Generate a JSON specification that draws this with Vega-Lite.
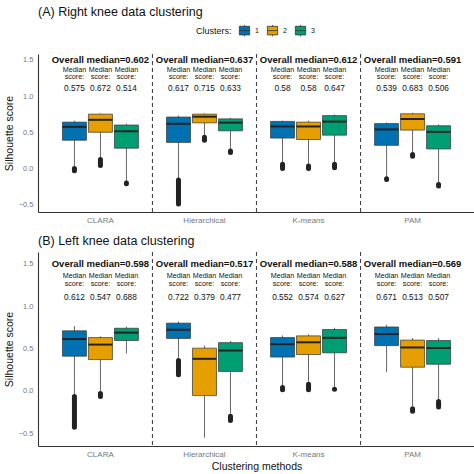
{
  "$schema": "https://vega.github.io/schema/vega-lite/v6.json",
  "padding": {"left": 4, "top": 5, "right": 0, "bottom": 0},
  "config": {
    "font": "Liberation Sans",
    "view": {"stroke": null},
    "axis": {"domainColor": "#333", "domainWidth": 1.1, "ticks": false, "grid": false, "labelColor": "#777", "labelFontSize": 7.5, "titleFontWeight": "normal", "titleColor": "#111", "titleFontSize": 10.5, "labelPadding": 5, "labelOverlap": false},
    "title": {"fontWeight": "normal", "fontSize": 12.5, "color": "#111", "anchor": "start", "frame": "group"}
  },
  "datasets": {
    "div": [{"method": "Hierarchical"}, {"method": "K-means"}, {"method": "PAM"}],
    "boxA": [
      {"method": "CLARA", "cluster": "1", "lower": 0.03, "q1": 0.39, "median": 0.575, "q3": 0.64, "upper": 0.66},
      {"method": "CLARA", "cluster": "2", "lower": 0.15, "q1": 0.50, "median": 0.672, "q3": 0.75, "upper": 0.76},
      {"method": "CLARA", "cluster": "3", "lower": -0.18, "q1": 0.28, "median": 0.514, "q3": 0.60, "upper": 0.62},
      {"method": "Hierarchical", "cluster": "1", "lower": -0.13, "q1": 0.36, "median": 0.617, "q3": 0.71, "upper": 0.73},
      {"method": "Hierarchical", "cluster": "2", "lower": 0.46, "q1": 0.63, "median": 0.715, "q3": 0.75, "upper": 0.76},
      {"method": "Hierarchical", "cluster": "3", "lower": 0.27, "q1": 0.52, "median": 0.633, "q3": 0.685, "upper": 0.70},
      {"method": "K-means", "cluster": "1", "lower": 0.087, "q1": 0.42, "median": 0.58, "q3": 0.65, "upper": 0.66},
      {"method": "K-means", "cluster": "2", "lower": 0.065, "q1": 0.40, "median": 0.58, "q3": 0.64, "upper": 0.66},
      {"method": "K-means", "cluster": "3", "lower": 0.087, "q1": 0.46, "median": 0.647, "q3": 0.73, "upper": 0.745},
      {"method": "PAM", "cluster": "1", "lower": -0.12, "q1": 0.32, "median": 0.539, "q3": 0.62, "upper": 0.635},
      {"method": "PAM", "cluster": "2", "lower": 0.225, "q1": 0.53, "median": 0.683, "q3": 0.755, "upper": 0.77},
      {"method": "PAM", "cluster": "3", "lower": -0.19, "q1": 0.27, "median": 0.506, "q3": 0.59, "upper": 0.61}
    ],
    "outA": [
      {"method": "CLARA", "cluster": "1", "hi": 0.0, "lo": -0.03},
      {"method": "CLARA", "cluster": "2", "hi": 0.125, "lo": 0.04},
      {"method": "CLARA", "cluster": "3", "hi": -0.2, "lo": -0.21},
      {"method": "Hierarchical", "cluster": "1", "hi": -0.16, "lo": -0.49},
      {"method": "Hierarchical", "cluster": "2", "hi": 0.43, "lo": 0.39},
      {"method": "Hierarchical", "cluster": "3", "hi": 0.24, "lo": 0.22},
      {"method": "K-means", "cluster": "1", "hi": 0.06, "lo": 0.0},
      {"method": "K-means", "cluster": "2", "hi": 0.035, "lo": 0.0},
      {"method": "K-means", "cluster": "3", "hi": 0.06, "lo": 0.01},
      {"method": "PAM", "cluster": "1", "hi": -0.14, "lo": -0.15},
      {"method": "PAM", "cluster": "2", "hi": 0.195, "lo": 0.17},
      {"method": "PAM", "cluster": "3", "hi": -0.22, "lo": -0.24}
    ],
    "ovA": [
      {"method": "CLARA", "label": "Overall median=0.602"},
      {"method": "Hierarchical", "label": "Overall median=0.637"},
      {"method": "K-means", "label": "Overall median=0.612"},
      {"method": "PAM", "label": "Overall median=0.591"}
    ],
    "boxB": [
      {"method": "CLARA", "cluster": "1", "lower": -0.035, "q1": 0.41, "median": 0.612, "q3": 0.71, "upper": 0.765},
      {"method": "CLARA", "cluster": "2", "lower": 0.0, "q1": 0.37, "median": 0.547, "q3": 0.63, "upper": 0.645},
      {"method": "CLARA", "cluster": "3", "lower": 0.44, "q1": 0.595, "median": 0.688, "q3": 0.74, "upper": 0.76},
      {"method": "Hierarchical", "cluster": "1", "lower": 0.39, "q1": 0.62, "median": 0.722, "q3": 0.80, "upper": 0.82},
      {"method": "Hierarchical", "cluster": "2", "lower": -0.55, "q1": -0.055, "median": 0.379, "q3": 0.505, "upper": 0.535},
      {"method": "Hierarchical", "cluster": "3", "lower": -0.27, "q1": 0.23, "median": 0.477, "q3": 0.57, "upper": 0.59},
      {"method": "K-means", "cluster": "1", "lower": 0.07, "q1": 0.40, "median": 0.552, "q3": 0.63, "upper": 0.655},
      {"method": "K-means", "cluster": "2", "lower": 0.11, "q1": 0.43, "median": 0.574, "q3": 0.65, "upper": 0.67},
      {"method": "K-means", "cluster": "3", "lower": 0.05, "q1": 0.45, "median": 0.627, "q3": 0.725, "upper": 0.745},
      {"method": "PAM", "cluster": "1", "lower": 0.22, "q1": 0.535, "median": 0.671, "q3": 0.755, "upper": 0.78},
      {"method": "PAM", "cluster": "2", "lower": -0.18, "q1": 0.28, "median": 0.513, "q3": 0.60, "upper": 0.625},
      {"method": "PAM", "cluster": "3", "lower": -0.095, "q1": 0.315, "median": 0.507, "q3": 0.595, "upper": 0.625}
    ],
    "outB": [
      {"method": "CLARA", "cluster": "1", "hi": -0.065, "lo": -0.43},
      {"method": "CLARA", "cluster": "2", "hi": -0.03, "lo": -0.065},
      {"method": "Hierarchical", "cluster": "1", "hi": 0.36, "lo": 0.19},
      {"method": "Hierarchical", "cluster": "3", "hi": -0.30, "lo": -0.35},
      {"method": "K-means", "cluster": "1", "hi": 0.04, "lo": 0.015},
      {"method": "K-means", "cluster": "2", "hi": 0.08, "lo": 0.015},
      {"method": "K-means", "cluster": "3", "hi": 0.02, "lo": 0.02},
      {"method": "PAM", "cluster": "2", "hi": -0.21, "lo": -0.24},
      {"method": "PAM", "cluster": "3", "hi": -0.125, "lo": -0.19}
    ],
    "ovB": [
      {"method": "CLARA", "label": "Overall median=0.598"},
      {"method": "Hierarchical", "label": "Overall median=0.517"},
      {"method": "K-means", "label": "Overall median=0.588"},
      {"method": "PAM", "label": "Overall median=0.569"}
    ]
  },
  "resolve": {"legend": {"color": "independent"}, "scale": {"y": "independent"}},
  "spacing": 10,
  "vconcat": [
    {
      "title": {"text": "(A) Right knee data clustering", "offset": 6},
      "width": 437,
      "height": 158,
      "layer": [
        {
          "data": {"name": "div"},
          "mark": {"type": "rule", "strokeDash": [4, 3], "color": "#444", "strokeWidth": 1.1},
          "encoding": {
            "x": {"field": "method", "type": "nominal", "bandPosition": 0, "scale": {"domain": ["CLARA", "Hierarchical", "K-means", "PAM"], "paddingInner": 0, "paddingOuter": 0.1}, "title": null, "axis": {"labelFontSize": 8, "labelPadding": 4, "labelAngle": 0}}
          }
        },
        {
          "data": {"name": "boxA"},
          "mark": {"type": "rule", "color": "#555", "strokeWidth": 0.9},
          "encoding": {
            "x": {"field": "method", "type": "nominal", "title": null},
            "xOffset": {"field": "cluster", "type": "nominal", "scale": {"domain": ["1", "2", "3"], "paddingInner": 0.077, "paddingOuter": 0.54}},
            "y": {"field": "lower", "type": "quantitative", "scale": {"domain": [-0.6, 1.58], "nice": false, "zero": false}, "title": "Silhouette score", "axis": {"values": [-0.5, 0, 0.5, 1, 1.5], "tickCount": 10, "format": ".1f", "titlePadding": 4, "labelOverlap": false}},
            "y2": {"field": "upper"}
          }
        },
        {
          "data": {"name": "outA"},
          "mark": {"type": "rule", "color": "#222", "strokeWidth": 5, "strokeCap": "round"},
          "encoding": {
            "x": {"field": "method", "type": "nominal", "title": null},
            "xOffset": {"field": "cluster", "type": "nominal"},
            "y": {"field": "hi", "type": "quantitative", "title": "Silhouette score"},
            "y2": {"field": "lo"}
          }
        },
        {
          "data": {"name": "boxA"},
          "mark": {"type": "bar", "stroke": "#333", "strokeWidth": 0.7},
          "encoding": {
            "x": {"field": "method", "type": "nominal", "title": null},
            "xOffset": {"field": "cluster", "type": "nominal"},
            "y": {"field": "q1", "type": "quantitative", "title": "Silhouette score"},
            "y2": {"field": "q3"},
            "color": {"field": "cluster", "type": "nominal", "scale": {"domain": ["1", "2", "3"], "range": ["#0072B2", "#E69F00", "#009E73"]},
              "legend": {"title": "Clusters:", "orient": "none", "legendX": 158, "legendY": -30, "direction": "horizontal", "titleOrient": "left", "titleFontSize": 9, "titleFontWeight": "normal", "titleColor": "#111", "titlePadding": 6, "labelFontSize": 7, "labelColor": "#111", "symbolType": "M-0.9,-0.75H0.9V0.75H-0.9Z M-0.9,0H0.9 M0,-0.75V-1 M0,0.75V1", "symbolSize": 130, "symbolStrokeColor": "#333", "symbolStrokeWidth": 0.8, "columnPadding": 6, "labelOffset": 4}}
          }
        },
        {
          "data": {"name": "boxA"},
          "mark": {"type": "tick", "orient": "horizontal", "size": 24, "thickness": 2, "color": "#222", "opacity": 1},
          "encoding": {
            "x": {"field": "method", "type": "nominal", "title": null},
            "xOffset": {"field": "cluster", "type": "nominal"},
            "y": {"field": "median", "type": "quantitative", "title": "Silhouette score"}
          }
        },
        {
          "data": {"name": "boxA"},
          "mark": {"type": "text", "text": "Median", "fontSize": 7.2, "color": "#111"},
          "encoding": {
            "x": {"field": "method", "type": "nominal", "title": null},
            "xOffset": {"field": "cluster", "type": "nominal"},
            "y": {"datum": 1.36}
          }
        },
        {
          "data": {"name": "boxA"},
          "mark": {"type": "text", "text": "score:", "fontSize": 7.2, "color": "#111"},
          "encoding": {
            "x": {"field": "method", "type": "nominal", "title": null},
            "xOffset": {"field": "cluster", "type": "nominal"},
            "y": {"datum": 1.26}
          }
        },
        {
          "data": {"name": "boxA"},
          "mark": {"type": "text", "fontSize": 8.3, "color": "#111"},
          "encoding": {
            "x": {"field": "method", "type": "nominal", "title": null},
            "xOffset": {"field": "cluster", "type": "nominal"},
            "y": {"datum": 1.1},
            "text": {"field": "median", "type": "quantitative", "format": ".3~f"}
          }
        },
        {
          "data": {"name": "ovA"},
          "mark": {"type": "text", "fontSize": 9.5, "fontWeight": "bold", "color": "#111"},
          "encoding": {
            "x": {"field": "method", "type": "nominal", "title": null},
            "y": {"datum": 1.5},
            "text": {"field": "label"}
          }
        }
      ]
    },
    {
      "title": {"text": "(B) Left knee data clustering", "offset": 4},
      "width": 437,
      "height": 194,
      "layer": [
        {
          "data": {"name": "div"},
          "mark": {"type": "rule", "strokeDash": [4, 3], "color": "#444", "strokeWidth": 1.1},
          "encoding": {
            "x": {"field": "method", "type": "nominal", "bandPosition": 0, "scale": {"domain": ["CLARA", "Hierarchical", "K-means", "PAM"], "paddingInner": 0, "paddingOuter": 0.1}, "title": "Clustering methods", "axis": {"labelFontSize": 8, "labelPadding": 4, "labelAngle": 0, "titlePadding": 3}}
          }
        },
        {
          "data": {"name": "boxB"},
          "mark": {"type": "rule", "color": "#555", "strokeWidth": 0.9},
          "encoding": {
            "x": {"field": "method", "type": "nominal", "title": "Clustering methods"},
            "xOffset": {"field": "cluster", "type": "nominal", "scale": {"domain": ["1", "2", "3"], "paddingInner": 0.077, "paddingOuter": 0.54}},
            "y": {"field": "lower", "type": "quantitative", "scale": {"domain": [-0.65, 1.64], "nice": false, "zero": false}, "title": "Silhouette score", "axis": {"values": [-0.5, 0, 0.5, 1, 1.5], "tickCount": 10, "format": ".1f", "titlePadding": 4, "labelOverlap": false}},
            "y2": {"field": "upper"}
          }
        },
        {
          "data": {"name": "outB"},
          "mark": {"type": "rule", "color": "#222", "strokeWidth": 5, "strokeCap": "round"},
          "encoding": {
            "x": {"field": "method", "type": "nominal", "title": "Clustering methods"},
            "xOffset": {"field": "cluster", "type": "nominal"},
            "y": {"field": "hi", "type": "quantitative", "title": "Silhouette score"},
            "y2": {"field": "lo"}
          }
        },
        {
          "data": {"name": "boxB"},
          "mark": {"type": "bar", "stroke": "#333", "strokeWidth": 0.7},
          "encoding": {
            "x": {"field": "method", "type": "nominal", "title": "Clustering methods"},
            "xOffset": {"field": "cluster", "type": "nominal"},
            "y": {"field": "q1", "type": "quantitative", "title": "Silhouette score"},
            "y2": {"field": "q3"},
            "color": {"field": "cluster", "type": "nominal", "scale": {"domain": ["1", "2", "3"], "range": ["#0072B2", "#E69F00", "#009E73"]}, "legend": null}
          }
        },
        {
          "data": {"name": "boxB"},
          "mark": {"type": "tick", "orient": "horizontal", "size": 24, "thickness": 2, "color": "#222", "opacity": 1},
          "encoding": {
            "x": {"field": "method", "type": "nominal", "title": "Clustering methods"},
            "xOffset": {"field": "cluster", "type": "nominal"},
            "y": {"field": "median", "type": "quantitative", "title": "Silhouette score"}
          }
        },
        {
          "data": {"name": "boxB"},
          "mark": {"type": "text", "text": "Median", "fontSize": 7.2, "color": "#111"},
          "encoding": {
            "x": {"field": "method", "type": "nominal", "title": "Clustering methods"},
            "xOffset": {"field": "cluster", "type": "nominal"},
            "y": {"datum": 1.36}
          }
        },
        {
          "data": {"name": "boxB"},
          "mark": {"type": "text", "text": "score:", "fontSize": 7.2, "color": "#111"},
          "encoding": {
            "x": {"field": "method", "type": "nominal", "title": "Clustering methods"},
            "xOffset": {"field": "cluster", "type": "nominal"},
            "y": {"datum": 1.26}
          }
        },
        {
          "data": {"name": "boxB"},
          "mark": {"type": "text", "fontSize": 8.3, "color": "#111"},
          "encoding": {
            "x": {"field": "method", "type": "nominal", "title": "Clustering methods"},
            "xOffset": {"field": "cluster", "type": "nominal"},
            "y": {"datum": 1.1},
            "text": {"field": "median", "type": "quantitative", "format": ".3~f"}
          }
        },
        {
          "data": {"name": "ovB"},
          "mark": {"type": "text", "fontSize": 9.5, "fontWeight": "bold", "color": "#111"},
          "encoding": {
            "x": {"field": "method", "type": "nominal", "title": "Clustering methods"},
            "y": {"datum": 1.5},
            "text": {"field": "label"}
          }
        }
      ]
    }
  ]
}
